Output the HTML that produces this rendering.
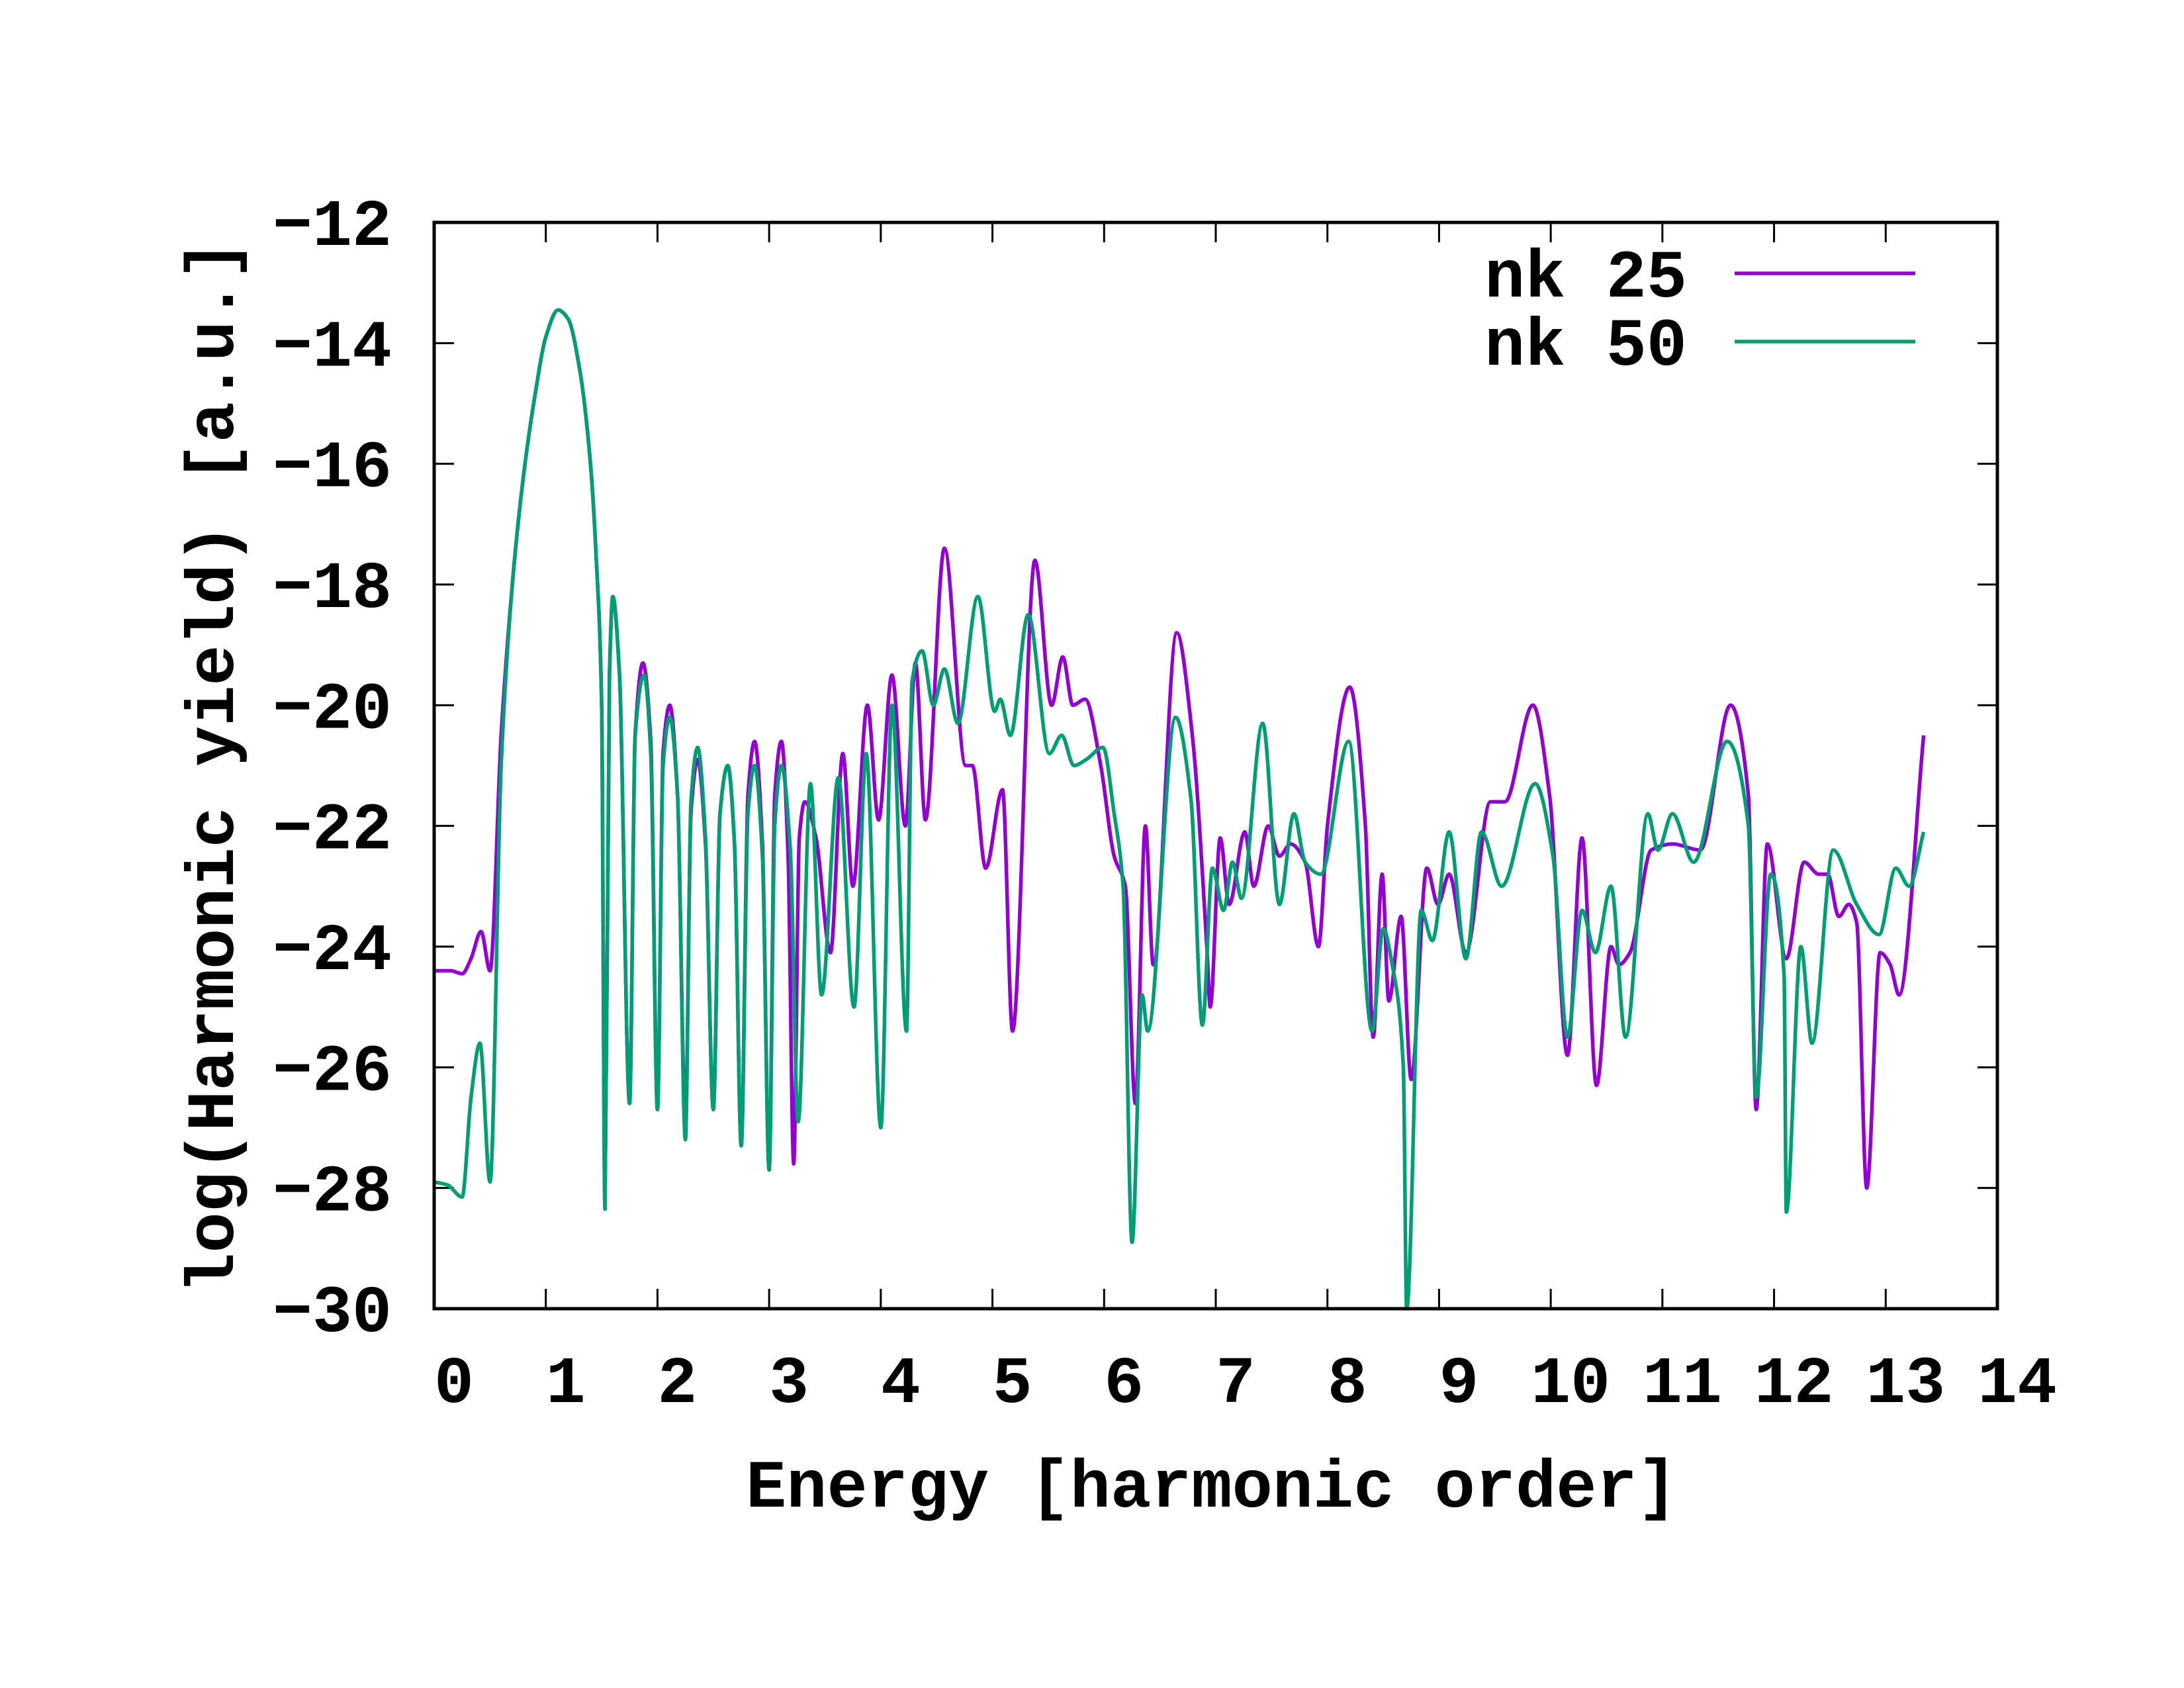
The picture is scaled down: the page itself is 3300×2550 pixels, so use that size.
<!DOCTYPE html>
<html><head><meta charset="utf-8"><style>
html,body{margin:0;padding:0;background:#fff;}
svg{display:block;}
text{font-family:"Liberation Mono","DejaVu Sans Mono",monospace;font-weight:bold;fill:#000;}
</style></head><body>
<svg id="chart" xmlns="http://www.w3.org/2000/svg" width="3300" height="2550" viewBox="0 0 3300 2550">
<rect width="3300" height="2550" fill="#fff"/>
<g id="grid"></g>
<g id="series"></g>
<rect x="656" y="336" width="2362" height="1641" fill="none" stroke="#000" stroke-width="5"/>
<text x="1831" y="2276" font-size="102" text-anchor="middle">Energy [harmonic order]</text>
<text transform="translate(352,1158) rotate(-90)" font-size="102" text-anchor="middle">log(Harmonic yield) [a.u.]</text>
<g>
<text x="2549" y="448" font-size="102" text-anchor="end">nk 25</text>
<line x1="2621" y1="413" x2="2894" y2="413" stroke="#9400d3" stroke-width="5.5"/>
<text x="2549" y="551" font-size="102" text-anchor="end">nk 50</text>
<line x1="2621" y1="516" x2="2894" y2="516" stroke="#009e73" stroke-width="5.5"/>
</g>
</svg>
<script>
const xTicks=[0,1,2,3,4,5,6,7,8,9,10,11,12,13,14];
const yTicks=[-12,-14,-16,-18,-20,-22,-24,-26,-28,-30];
const nk25X=[0,0.15,0.25,0.33,0.42,0.5,0.6,0.7,0.8,0.9,1.0,1.11,1.2,1.3,1.4,1.45,1.5,1.53,1.57,1.6,1.66,1.75,1.8,1.87,1.94,2.0,2.05,2.11,2.18,2.25,2.3,2.36,2.43,2.5,2.56,2.63,2.69,2.75,2.81,2.87,2.94,3.0,3.05,3.11,3.17,3.22,3.27,3.32,3.42,3.55,3.66,3.75,3.88,3.98,4.1,4.22,4.31,4.4,4.57,4.76,4.82,4.94,5.09,5.18,5.38,5.53,5.63,5.72,5.83,5.97,6.09,6.19,6.28,6.37,6.44,6.65,6.79,6.92,6.95,7.04,7.12,7.26,7.34,7.47,7.57,7.67,7.8,7.92,8.0,8.2,8.34,8.41,8.49,8.55,8.66,8.75,8.89,8.99,9.09,9.24,9.46,9.59,9.84,9.99,10.15,10.28,10.41,10.54,10.61,10.71,10.9,11.09,11.34,11.61,11.77,11.84,11.94,12.11,12.27,12.4,12.48,12.58,12.67,12.74,12.83,12.95,13.04,13.12,13.34];
const nk25Y=[-24.4,-24.4,-24.45,-24.2,-23.75,-24.4,-20.5,-18,-16.2,-14.9,-13.9,-13.45,-13.6,-14.4,-16,-17.5,-20,-28.3,-19.5,-18.2,-19.5,-26.6,-20.5,-19.3,-20.6,-26.7,-20.8,-20.0,-21.5,-26.9,-21.8,-20.9,-22.3,-26.7,-21.8,-21.0,-22.3,-27.3,-21.5,-20.6,-22.3,-27.7,-21.5,-20.6,-22.5,-27.6,-22.2,-21.6,-22.2,-24.1,-20.8,-23,-20.0,-21.9,-19.5,-22,-19.3,-21.9,-17.4,-21,-21,-22.7,-21.4,-25.4,-17.6,-20,-19.2,-20,-19.9,-21,-22.5,-23,-26.6,-22,-24.3,-18.8,-20.5,-24,-25,-22.2,-23.3,-22.1,-23,-22,-22.5,-22.3,-22.6,-24,-22,-19.7,-22,-25.5,-22.8,-24.9,-23.5,-26.2,-22.7,-23.3,-22.8,-24.1,-21.6,-21.6,-20.0,-21.5,-25.8,-22.2,-26.3,-24,-24.3,-24.1,-22.4,-22.3,-22.4,-20,-21.5,-26.7,-22.3,-24.2,-22.6,-22.8,-22.8,-23.5,-23.3,-23.6,-28,-24.1,-24.3,-24.8,-20.5];
const nk50X=[0,0.12,0.25,0.33,0.41,0.5,0.6,0.7,0.8,0.9,1.0,1.11,1.2,1.3,1.4,1.45,1.5,1.53,1.57,1.6,1.66,1.75,1.8,1.88,1.94,2.0,2.05,2.11,2.18,2.25,2.3,2.36,2.43,2.5,2.56,2.63,2.69,2.75,2.81,2.87,2.94,3.0,3.05,3.11,3.19,3.26,3.37,3.47,3.62,3.76,3.87,4.0,4.1,4.23,4.28,4.37,4.47,4.57,4.69,4.87,5.02,5.07,5.16,5.32,5.51,5.62,5.73,5.84,5.99,6.09,6.17,6.25,6.34,6.39,6.64,6.78,6.88,6.97,7.07,7.15,7.23,7.42,7.57,7.7,7.8,7.94,8.19,8.4,8.5,8.58,8.68,8.71,8.84,8.94,9.09,9.24,9.38,9.56,9.86,10.02,10.15,10.28,10.4,10.54,10.67,10.87,10.96,11.09,11.28,11.58,11.77,11.84,11.97,12.09,12.11,12.24,12.34,12.53,12.74,12.94,13.09,13.21,13.34];
const nk50Y=[-27.9,-27.95,-28.15,-26.5,-25.6,-27.9,-21,-18,-16.2,-14.9,-13.9,-13.45,-13.6,-14.4,-16,-17.5,-20,-28.35,-19.5,-18.2,-19.5,-26.6,-20.5,-19.5,-20.8,-26.7,-21,-20.2,-21.5,-27.2,-21.6,-20.7,-22.2,-26.7,-21.8,-21.0,-22.3,-27.3,-21.8,-21.0,-22.5,-27.7,-22,-21.0,-22.4,-26.9,-21.3,-24.8,-21.2,-25,-20.8,-27,-20.0,-25.4,-19.6,-19.1,-20.0,-19.4,-20.3,-18.2,-20.1,-19.9,-20.5,-18.5,-20.8,-20.5,-21.0,-20.9,-20.7,-21.8,-23,-28.9,-24.8,-25.4,-20.2,-21.6,-25.3,-22.7,-23.4,-22.6,-23.2,-20.3,-23.3,-21.8,-22.6,-22.8,-20.6,-25.4,-23.7,-24.3,-26,-30,-23.4,-23.9,-22.1,-24.2,-22.1,-23,-21.3,-22.5,-25.5,-23.4,-24.1,-23,-25.5,-21.8,-22.4,-21.8,-22.6,-20.6,-22,-26.5,-22.8,-24.5,-28.4,-24,-25.6,-22.4,-23.3,-23.8,-22.7,-23,-22.1];

const NS='http://www.w3.org/2000/svg';
const L=656,R=3018,T=336,B=1977,XMIN=0,XMAX=14,YMIN=-30,YMAX=-12;
function sx(v){return L+(v-XMIN)/(XMAX-XMIN)*(R-L);}
function sy(v){return B-(v-YMIN)/(YMAX-YMIN)*(B-T);}
const grid=document.getElementById('grid');
function mk(tag,attrs,parent){const e=document.createElementNS(NS,tag);for(const k in attrs)e.setAttribute(k,attrs[k]);parent.appendChild(e);return e;}
xTicks.forEach(t=>{
  const x=sx(t);
  let a=mk('line',{x1:x,y1:B,x2:x,y2:B-30,stroke:'#000','stroke-width':3},grid);
  
  
  let b=mk('line',{x1:x,y1:T,x2:x,y2:T+30,stroke:'#000','stroke-width':3},grid);
  
  
  let tx=mk('text',{x:x+30,y:2118,'font-size':100,'text-anchor':'middle'},grid);
  tx.textContent=String(t);
  
  
});
yTicks.forEach(t=>{
  const y=sy(t);
  let a=mk('line',{x1:L,y1:y,x2:L+30,y2:y,stroke:'#000','stroke-width':3},grid);
  
  
  let b=mk('line',{x1:R,y1:y,x2:R-30,y2:y,stroke:'#000','stroke-width':3},grid);
  
  
  let tx=mk('text',{x:592,y:y+34,'font-size':100,'text-anchor':'end'},grid);
  tx.textContent='\u2212'+String(Math.abs(t));
  
  
});
const ser=document.getElementById('series');
function monoPath(xs,ys){
  const n=xs.length,X=xs.map(sx),Y=ys.map(sy);
  const d=[],m=new Array(n);
  for(let i=0;i<n-1;i++)d.push((Y[i+1]-Y[i])/(X[i+1]-X[i]));
  m[0]=d[0];m[n-1]=d[n-2];
  for(let i=1;i<n-1;i++){
    if(d[i-1]*d[i]<=0)m[i]=0;
    else{const h0=X[i]-X[i-1],h1=X[i+1]-X[i];const w1=2*h1+h0,w2=h1+2*h0;m[i]=(w1+w2)/(w1/d[i-1]+w2/d[i]);}
  }
  let s='M'+X[0].toFixed(1)+','+Y[0].toFixed(1);
  for(let i=0;i<n-1;i++){
    const h=X[i+1]-X[i];
    s+=' C'+(X[i]+h/3).toFixed(1)+','+(Y[i]+m[i]*h/3).toFixed(1)+' '+(X[i+1]-h/3).toFixed(1)+','+(Y[i+1]-m[i+1]*h/3).toFixed(1)+' '+X[i+1].toFixed(1)+','+Y[i+1].toFixed(1);
  }
  return s;
}
function draw(xs,ys,color,name){
  const p=mk('path',{d:monoPath(xs,ys),fill:'none',stroke:color,'stroke-width':5.5,'stroke-linejoin':'round'},ser);
  
  
}
draw(nk25X,nk25Y,'#9400d3','series-nk25');
draw(nk50X,nk50Y,'#009e73','series-nk50');
</script>
</body></html>
